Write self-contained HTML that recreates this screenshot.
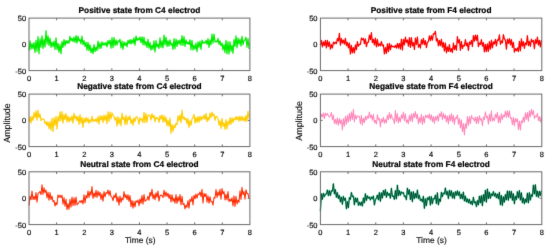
<!DOCTYPE html>
<html><head><meta charset="utf-8"><style>
html,body{margin:0;padding:0;background:#fff;}
svg{display:block;}

.ax{stroke:#6a6a6a;stroke-width:1;fill:none;}
.tk{font-family:"Liberation Sans",Arial,sans-serif;font-size:7.5px;fill:#000;stroke:#000;stroke-width:0.15px;}
.tt{font-family:"Liberation Sans",Arial,sans-serif;font-size:8.3px;font-weight:bold;fill:#000;stroke:#000;stroke-width:0.2px;}
.lb{font-family:"Liberation Sans",Arial,sans-serif;fill:#111;stroke:#111;stroke-width:0.15px;}
text{text-rendering:geometricPrecision;}
</style></head><body>
<svg width="550" height="249" viewBox="0 0 550 249" xmlns="http://www.w3.org/2000/svg">
<defs><filter id="bl" x="0" y="0" width="550" height="249" filterUnits="userSpaceOnUse" color-interpolation-filters="sRGB"><feConvolveMatrix order="3" kernelMatrix="0.0064 0.0672 0.0064 0.0672 0.7056 0.0672 0.0064 0.0672 0.0064" divisor="1" edgeMode="duplicate"/></filter></defs>
<g filter="url(#bl)">
<rect width="550" height="249" fill="#fff"/>
<line x1="56.61" y1="70.6" x2="56.61" y2="68.39999999999999" class="ax"/>
<line x1="56.61" y1="18.1" x2="56.61" y2="20.3" class="ax"/>
<line x1="84.22" y1="70.6" x2="84.22" y2="68.39999999999999" class="ax"/>
<line x1="84.22" y1="18.1" x2="84.22" y2="20.3" class="ax"/>
<line x1="111.84" y1="70.6" x2="111.84" y2="68.39999999999999" class="ax"/>
<line x1="111.84" y1="18.1" x2="111.84" y2="20.3" class="ax"/>
<line x1="139.45" y1="70.6" x2="139.45" y2="68.39999999999999" class="ax"/>
<line x1="139.45" y1="18.1" x2="139.45" y2="20.3" class="ax"/>
<line x1="167.06" y1="70.6" x2="167.06" y2="68.39999999999999" class="ax"/>
<line x1="167.06" y1="18.1" x2="167.06" y2="20.3" class="ax"/>
<line x1="194.68" y1="70.6" x2="194.68" y2="68.39999999999999" class="ax"/>
<line x1="194.68" y1="18.1" x2="194.68" y2="20.3" class="ax"/>
<line x1="222.29" y1="70.6" x2="222.29" y2="68.39999999999999" class="ax"/>
<line x1="222.29" y1="18.1" x2="222.29" y2="20.3" class="ax"/>
<line x1="29.0" y1="44.349999999999994" x2="31.2" y2="44.349999999999994" class="ax"/>
<line x1="249.9" y1="44.349999999999994" x2="247.70000000000002" y2="44.349999999999994" class="ax"/>
<polyline id="sp1" points="29.0,50.8 30.0,40.9 31.0,49.2 32.0,43.7 33.0,48.6 34.0,42.5 35.0,52.4 36.0,40.3 37.0,51.3 38.0,36.5 39.0,53.8 40.0,38.9 41.0,47.3 42.0,35.9 43.0,48.4 44.0,39.1 45.0,47.0 46.0,30.7 47.0,44.0 48.0,35.8 49.0,45.5 50.0,38.1 51.0,47.3 52.0,42.0 53.0,46.7 54.0,41.1 55.0,49.4 56.0,37.8 57.0,49.5 58.0,43.4 59.0,52.1 60.0,44.5 61.0,53.7 62.0,41.6 63.0,47.3 64.0,39.6 65.0,46.0 66.0,40.4 67.0,43.5 68.0,40.7 69.0,43.2 70.0,36.4 71.0,40.8 72.0,38.3 73.0,41.6 74.0,37.2 75.0,42.5 76.0,35.7 77.0,43.2 78.0,36.2 79.0,41.2 80.0,39.3 81.0,43.9 82.0,36.2 83.0,44.7 84.0,40.5 85.0,46.3 86.0,42.4 87.0,50.2 88.0,42.4 89.0,50.7 90.0,44.7 91.0,52.7 92.0,47.8 93.0,53.6 94.0,44.6 95.0,51.7 96.0,47.0 97.0,50.6 98.0,41.2 99.0,48.6 100.0,42.9 101.0,48.5 102.0,41.8 103.0,45.4 104.0,42.8 105.0,45.3 106.0,42.4 107.0,46.8 108.0,40.6 109.0,44.1 110.0,40.0 111.0,48.1 112.0,37.7 113.0,47.6 114.0,37.6 115.0,45.6 116.0,39.8 117.0,45.2 118.0,40.8 119.0,41.9 120.0,39.2 121.0,47.9 122.0,41.1 123.0,49.4 124.0,41.8 125.0,45.5 126.0,42.6 127.0,46.8 128.0,40.3 129.0,43.5 130.0,39.7 131.0,44.0 132.0,39.7 133.0,43.4 134.0,37.8 135.0,45.2 136.0,36.0 137.0,40.5 138.0,38.4 139.0,40.0 140.0,37.0 141.0,42.6 142.0,36.8 143.0,44.8 144.0,37.1 145.0,45.2 146.0,41.5 147.0,47.4 148.0,39.4 149.0,48.1 150.0,42.7 151.0,50.2 152.0,45.0 153.0,49.4 154.0,40.8 155.0,52.0 156.0,40.6 157.0,47.0 158.0,44.1 159.0,48.5 160.0,37.9 161.0,47.5 162.0,40.8 163.0,48.0 164.0,35.0 165.0,45.0 166.0,37.1 167.0,46.5 168.0,40.5 169.0,46.2 170.0,39.8 171.0,45.1 172.0,43.5 173.0,49.4 174.0,38.7 175.0,48.6 176.0,39.2 177.0,46.4 178.0,40.3 179.0,44.2 180.0,39.8 181.0,45.3 182.0,35.7 183.0,45.5 184.0,36.6 185.0,46.4 186.0,39.8 187.0,43.9 188.0,42.1 189.0,44.5 190.0,39.8 191.0,49.7 192.0,40.3 193.0,50.0 194.0,45.1 195.0,49.4 196.0,43.2 197.0,51.6 198.0,41.8 199.0,47.5 200.0,41.2 201.0,49.5 202.0,40.0 203.0,43.3 204.0,42.3 205.0,43.2 206.0,40.4 207.0,44.3 208.0,38.6 209.0,47.5 210.0,39.9 211.0,44.9 212.0,34.2 213.0,43.2 214.0,34.2 215.0,42.0 216.0,41.3 217.0,42.1 218.0,38.3 219.0,44.4 220.0,40.8 221.0,45.8 222.0,43.1 223.0,49.9 224.0,44.5 225.0,52.7 226.0,40.4 227.0,53.8 228.0,41.7 229.0,54.0 230.0,41.9 231.0,51.3 232.0,45.3 233.0,53.3 234.0,39.6 235.0,46.4 236.0,35.9 237.0,47.8 238.0,38.1 239.0,44.1 240.0,39.0 241.0,46.2 242.0,36.4 243.0,44.7 244.0,40.5 245.0,40.1 246.0,37.2 247.0,47.3 248.0,38.5 249.0,48.9" fill="none" stroke="#00ee00" stroke-width="1.2" stroke-linejoin="round"/>
<rect x="29.0" y="18.1" width="220.9" height="52.49999999999999" class="ax" fill="none"/>
<text x="29.00" y="80.70" class="tk" text-anchor="middle">0</text>
<text x="56.61" y="80.70" class="tk" text-anchor="middle">1</text>
<text x="84.22" y="80.70" class="tk" text-anchor="middle">2</text>
<text x="111.84" y="80.70" class="tk" text-anchor="middle">3</text>
<text x="139.45" y="80.70" class="tk" text-anchor="middle">4</text>
<text x="167.06" y="80.70" class="tk" text-anchor="middle">5</text>
<text x="194.68" y="80.70" class="tk" text-anchor="middle">6</text>
<text x="222.29" y="80.70" class="tk" text-anchor="middle">7</text>
<text x="249.90" y="80.70" class="tk" text-anchor="middle">8</text>
<text x="26.10" y="21.00" class="tk" text-anchor="end">50</text>
<text x="26.10" y="47.25" class="tk" text-anchor="end">0</text>
<text x="26.10" y="73.50" class="tk" text-anchor="end">-50</text>
<text x="139.45" y="13.40" class="tt" text-anchor="middle">Positive state from C4 electrod</text>
<line x1="56.61" y1="146.6" x2="56.61" y2="144.4" class="ax"/>
<line x1="56.61" y1="94.1" x2="56.61" y2="96.3" class="ax"/>
<line x1="84.22" y1="146.6" x2="84.22" y2="144.4" class="ax"/>
<line x1="84.22" y1="94.1" x2="84.22" y2="96.3" class="ax"/>
<line x1="111.84" y1="146.6" x2="111.84" y2="144.4" class="ax"/>
<line x1="111.84" y1="94.1" x2="111.84" y2="96.3" class="ax"/>
<line x1="139.45" y1="146.6" x2="139.45" y2="144.4" class="ax"/>
<line x1="139.45" y1="94.1" x2="139.45" y2="96.3" class="ax"/>
<line x1="167.06" y1="146.6" x2="167.06" y2="144.4" class="ax"/>
<line x1="167.06" y1="94.1" x2="167.06" y2="96.3" class="ax"/>
<line x1="194.68" y1="146.6" x2="194.68" y2="144.4" class="ax"/>
<line x1="194.68" y1="94.1" x2="194.68" y2="96.3" class="ax"/>
<line x1="222.29" y1="146.6" x2="222.29" y2="144.4" class="ax"/>
<line x1="222.29" y1="94.1" x2="222.29" y2="96.3" class="ax"/>
<line x1="29.0" y1="120.35" x2="31.2" y2="120.35" class="ax"/>
<line x1="249.9" y1="120.35" x2="247.70000000000002" y2="120.35" class="ax"/>
<polyline id="sp2" points="29.0,121.6 30.0,116.6 31.0,123.1 32.0,116.4 33.0,120.5 34.0,112.7 35.0,117.6 36.0,110.8 37.0,120.1 38.0,110.4 39.0,117.6 40.0,114.2 41.0,120.6 42.0,118.8 43.0,119.2 44.0,119.2 45.0,123.7 46.0,121.6 47.0,125.7 48.0,122.0 49.0,128.6 50.0,121.6 51.0,130.1 52.0,118.3 53.0,131.6 54.0,117.7 55.0,125.5 56.0,116.4 57.0,129.0 58.0,116.5 59.0,121.3 60.0,111.8 61.0,120.9 62.0,111.5 63.0,123.1 64.0,114.6 65.0,119.6 66.0,113.4 67.0,121.9 68.0,116.1 69.0,122.0 70.0,117.3 71.0,120.9 72.0,115.7 73.0,123.1 74.0,113.2 75.0,118.9 76.0,116.1 77.0,120.8 78.0,116.4 79.0,124.4 80.0,114.5 81.0,123.1 82.0,117.1 83.0,127.4 84.0,118.4 85.0,122.5 86.0,117.3 87.0,122.0 88.0,118.1 89.0,123.3 90.0,119.8 91.0,122.0 92.0,116.3 93.0,121.6 94.0,119.6 95.0,121.3 96.0,118.8 97.0,122.2 98.0,116.7 99.0,124.1 100.0,115.7 101.0,120.0 102.0,115.9 103.0,122.7 104.0,115.1 105.0,120.5 106.0,115.0 107.0,123.8 108.0,111.9 109.0,121.5 110.0,112.0 111.0,118.9 112.0,112.9 113.0,115.3 114.0,116.7 115.0,120.1 116.0,117.4 117.0,126.1 118.0,116.6 119.0,124.0 120.0,118.2 121.0,126.0 122.0,113.0 123.0,119.4 124.0,117.2 125.0,124.6 126.0,115.2 127.0,124.3 128.0,116.8 129.0,119.9 130.0,115.9 131.0,123.7 132.0,119.2 133.0,125.4 134.0,117.8 135.0,121.7 136.0,117.1 137.0,116.7 138.0,119.1 139.0,124.3 140.0,117.6 141.0,120.4 142.0,118.7 143.0,122.7 144.0,112.4 145.0,122.7 146.0,113.3 147.0,122.3 148.0,115.2 149.0,115.0 150.0,115.3 151.0,120.1 152.0,113.7 153.0,117.9 154.0,115.4 155.0,121.8 156.0,117.2 157.0,118.6 158.0,117.9 159.0,122.5 160.0,115.6 161.0,119.2 162.0,114.8 163.0,122.2 164.0,115.6 165.0,122.0 166.0,117.1 167.0,125.9 168.0,120.2 169.0,126.5 170.0,118.1 171.0,133.5 172.0,124.3 173.0,131.3 174.0,125.3 175.0,127.8 176.0,123.2 177.0,124.7 178.0,115.9 179.0,121.0 180.0,114.9 181.0,122.6 182.0,110.2 183.0,119.0 184.0,116.8 185.0,119.9 186.0,118.2 187.0,124.0 188.0,118.5 189.0,127.7 190.0,120.6 191.0,125.4 192.0,119.0 193.0,117.5 194.0,114.3 195.0,123.1 196.0,117.4 197.0,122.5 198.0,116.6 199.0,122.2 200.0,116.1 201.0,120.4 202.0,116.9 203.0,118.9 204.0,114.8 205.0,119.5 206.0,113.4 207.0,121.7 208.0,117.2 209.0,120.2 210.0,113.2 211.0,117.9 212.0,112.0 213.0,115.9 214.0,114.1 215.0,120.3 216.0,116.3 217.0,116.8 218.0,118.0 219.0,125.1 220.0,120.9 221.0,128.6 222.0,118.3 223.0,126.3 224.0,122.7 225.0,129.4 226.0,119.5 227.0,129.0 228.0,121.4 229.0,124.6 230.0,117.7 231.0,124.3 232.0,117.5 233.0,122.5 234.0,118.3 235.0,120.0 236.0,116.5 237.0,119.8 238.0,116.6 239.0,121.2 240.0,116.2 241.0,120.9 242.0,116.3 243.0,120.5 244.0,117.4 245.0,121.7 246.0,115.3 247.0,121.3 248.0,111.4 249.0,118.3" fill="none" stroke="#ffcc00" stroke-width="1.15" stroke-linejoin="round"/>
<rect x="29.0" y="94.1" width="220.9" height="52.5" class="ax" fill="none"/>
<text x="29.00" y="156.70" class="tk" text-anchor="middle">0</text>
<text x="56.61" y="156.70" class="tk" text-anchor="middle">1</text>
<text x="84.22" y="156.70" class="tk" text-anchor="middle">2</text>
<text x="111.84" y="156.70" class="tk" text-anchor="middle">3</text>
<text x="139.45" y="156.70" class="tk" text-anchor="middle">4</text>
<text x="167.06" y="156.70" class="tk" text-anchor="middle">5</text>
<text x="194.68" y="156.70" class="tk" text-anchor="middle">6</text>
<text x="222.29" y="156.70" class="tk" text-anchor="middle">7</text>
<text x="249.90" y="156.70" class="tk" text-anchor="middle">8</text>
<text x="26.10" y="97.00" class="tk" text-anchor="end">50</text>
<text x="26.10" y="123.25" class="tk" text-anchor="end">0</text>
<text x="26.10" y="149.50" class="tk" text-anchor="end">-50</text>
<text x="139.45" y="89.40" class="tt" text-anchor="middle">Negative state from C4 electrod</text>
<line x1="56.61" y1="224.6" x2="56.61" y2="222.4" class="ax"/>
<line x1="56.61" y1="171.8" x2="56.61" y2="174.0" class="ax"/>
<line x1="84.22" y1="224.6" x2="84.22" y2="222.4" class="ax"/>
<line x1="84.22" y1="171.8" x2="84.22" y2="174.0" class="ax"/>
<line x1="111.84" y1="224.6" x2="111.84" y2="222.4" class="ax"/>
<line x1="111.84" y1="171.8" x2="111.84" y2="174.0" class="ax"/>
<line x1="139.45" y1="224.6" x2="139.45" y2="222.4" class="ax"/>
<line x1="139.45" y1="171.8" x2="139.45" y2="174.0" class="ax"/>
<line x1="167.06" y1="224.6" x2="167.06" y2="222.4" class="ax"/>
<line x1="167.06" y1="171.8" x2="167.06" y2="174.0" class="ax"/>
<line x1="194.68" y1="224.6" x2="194.68" y2="222.4" class="ax"/>
<line x1="194.68" y1="171.8" x2="194.68" y2="174.0" class="ax"/>
<line x1="222.29" y1="224.6" x2="222.29" y2="222.4" class="ax"/>
<line x1="222.29" y1="171.8" x2="222.29" y2="174.0" class="ax"/>
<line x1="29.0" y1="198.2" x2="31.2" y2="198.2" class="ax"/>
<line x1="249.9" y1="198.2" x2="247.70000000000002" y2="198.2" class="ax"/>
<polyline id="sp3" points="29.0,205.5 30.0,196.1 31.0,199.8 32.0,191.1 33.0,199.5 34.0,196.5 35.0,199.6 36.0,192.6 37.0,202.3 38.0,193.9 39.0,192.5 40.0,191.5 41.0,194.6 42.0,184.7 43.0,194.4 44.0,187.8 45.0,192.6 46.0,190.1 47.0,198.0 48.0,192.0 49.0,200.3 50.0,192.5 51.0,199.6 52.0,196.1 53.0,201.7 54.0,200.5 55.0,206.0 56.0,202.5 57.0,204.8 58.0,194.9 59.0,197.4 60.0,195.1 61.0,197.6 62.0,195.3 63.0,204.1 64.0,197.5 65.0,206.3 66.0,199.2 67.0,209.6 68.0,203.7 69.0,209.3 70.0,199.2 71.0,207.1 72.0,197.0 73.0,205.6 74.0,197.8 75.0,205.4 76.0,197.1 77.0,204.8 78.0,203.7 79.0,202.3 80.0,200.8 81.0,202.6 82.0,200.3 83.0,204.0 84.0,194.7 85.0,203.0 86.0,195.4 87.0,198.1 88.0,191.1 89.0,197.5 90.0,191.5 91.0,195.2 92.0,186.6 93.0,198.5 94.0,192.9 95.0,197.1 96.0,190.3 97.0,197.5 98.0,191.0 99.0,195.8 100.0,192.2 101.0,199.4 102.0,193.9 103.0,201.2 104.0,191.6 105.0,196.8 106.0,192.5 107.0,193.6 108.0,190.0 109.0,195.3 110.0,190.7 111.0,196.6 112.0,197.1 113.0,200.6 114.0,195.3 115.0,197.7 116.0,193.1 117.0,202.0 118.0,196.8 119.0,205.2 120.0,196.0 121.0,202.3 122.0,197.9 123.0,200.0 124.0,191.6 125.0,197.7 126.0,194.7 127.0,199.6 128.0,194.7 129.0,201.4 130.0,195.6 131.0,206.7 132.0,200.4 133.0,208.3 134.0,201.3 135.0,206.9 136.0,200.7 137.0,202.2 138.0,200.0 139.0,205.6 140.0,198.8 141.0,203.4 142.0,195.6 143.0,204.1 144.0,194.6 145.0,201.3 146.0,200.2 147.0,199.5 148.0,196.2 149.0,200.3 150.0,192.2 151.0,196.1 152.0,189.2 153.0,198.8 154.0,194.3 155.0,199.8 156.0,192.7 157.0,197.4 158.0,191.1 159.0,201.1 160.0,195.9 161.0,195.0 162.0,195.6 163.0,197.6 164.0,190.3 165.0,196.4 166.0,191.9 167.0,196.5 168.0,193.2 169.0,198.4 170.0,194.5 171.0,202.0 172.0,194.7 173.0,201.3 174.0,198.1 175.0,203.2 176.0,194.5 177.0,203.4 178.0,196.8 179.0,201.3 180.0,194.5 181.0,204.9 182.0,196.3 183.0,204.5 184.0,203.6 185.0,208.9 186.0,205.1 187.0,207.3 188.0,200.5 189.0,208.1 190.0,199.2 191.0,201.5 192.0,196.5 193.0,205.0 194.0,195.2 195.0,198.8 196.0,194.0 197.0,198.2 198.0,193.8 199.0,194.7 200.0,191.9 201.0,196.7 202.0,189.4 203.0,203.1 204.0,193.2 205.0,196.5 206.0,193.8 207.0,202.2 208.0,195.7 209.0,203.3 210.0,196.7 211.0,201.8 212.0,201.4 213.0,205.2 214.0,197.6 215.0,198.0 216.0,189.6 217.0,197.5 218.0,191.8 219.0,195.7 220.0,189.3 221.0,199.3 222.0,188.6 223.0,194.0 224.0,191.5 225.0,199.9 226.0,194.4 227.0,199.9 228.0,191.5 229.0,201.6 230.0,199.3 231.0,201.3 232.0,197.8 233.0,205.9 234.0,195.9 235.0,206.5 236.0,196.2 237.0,204.0 238.0,200.0 239.0,202.3 240.0,190.8 241.0,199.4 242.0,187.3 243.0,194.6 244.0,191.6 245.0,199.3 246.0,189.7 247.0,193.6 248.0,193.6 249.0,198.3" fill="none" stroke="#ff2a00" stroke-width="1.05" stroke-linejoin="round"/>
<rect x="29.0" y="171.8" width="220.9" height="52.79999999999998" class="ax" fill="none"/>
<text x="29.00" y="234.70" class="tk" text-anchor="middle">0</text>
<text x="56.61" y="234.70" class="tk" text-anchor="middle">1</text>
<text x="84.22" y="234.70" class="tk" text-anchor="middle">2</text>
<text x="111.84" y="234.70" class="tk" text-anchor="middle">3</text>
<text x="139.45" y="234.70" class="tk" text-anchor="middle">4</text>
<text x="167.06" y="234.70" class="tk" text-anchor="middle">5</text>
<text x="194.68" y="234.70" class="tk" text-anchor="middle">6</text>
<text x="222.29" y="234.70" class="tk" text-anchor="middle">7</text>
<text x="249.90" y="234.70" class="tk" text-anchor="middle">8</text>
<text x="26.10" y="174.70" class="tk" text-anchor="end">50</text>
<text x="26.10" y="201.10" class="tk" text-anchor="end">0</text>
<text x="26.10" y="227.50" class="tk" text-anchor="end">-50</text>
<text x="139.45" y="167.10" class="tt" text-anchor="middle">Neutral state from C4 electrod</text>
<line x1="348.07" y1="70.6" x2="348.07" y2="68.39999999999999" class="ax"/>
<line x1="348.07" y1="18.1" x2="348.07" y2="20.3" class="ax"/>
<line x1="375.75" y1="70.6" x2="375.75" y2="68.39999999999999" class="ax"/>
<line x1="375.75" y1="18.1" x2="375.75" y2="20.3" class="ax"/>
<line x1="403.42" y1="70.6" x2="403.42" y2="68.39999999999999" class="ax"/>
<line x1="403.42" y1="18.1" x2="403.42" y2="20.3" class="ax"/>
<line x1="431.10" y1="70.6" x2="431.10" y2="68.39999999999999" class="ax"/>
<line x1="431.10" y1="18.1" x2="431.10" y2="20.3" class="ax"/>
<line x1="458.77" y1="70.6" x2="458.77" y2="68.39999999999999" class="ax"/>
<line x1="458.77" y1="18.1" x2="458.77" y2="20.3" class="ax"/>
<line x1="486.45" y1="70.6" x2="486.45" y2="68.39999999999999" class="ax"/>
<line x1="486.45" y1="18.1" x2="486.45" y2="20.3" class="ax"/>
<line x1="514.12" y1="70.6" x2="514.12" y2="68.39999999999999" class="ax"/>
<line x1="514.12" y1="18.1" x2="514.12" y2="20.3" class="ax"/>
<line x1="320.4" y1="44.349999999999994" x2="322.59999999999997" y2="44.349999999999994" class="ax"/>
<line x1="541.8" y1="44.349999999999994" x2="539.5999999999999" y2="44.349999999999994" class="ax"/>
<polyline id="sp4" points="320.4,45.0 321.4,40.4 322.4,46.8 323.4,41.9 324.4,45.7 325.4,40.4 326.4,47.9 327.4,40.3 328.4,46.4 329.4,42.0 330.4,49.1 331.4,44.6 332.4,48.0 333.4,42.2 334.4,43.8 335.4,42.2 336.4,43.6 337.4,38.5 338.4,41.0 339.4,33.4 340.4,45.2 341.4,38.5 342.4,43.0 343.4,40.1 344.4,44.2 345.4,38.3 346.4,45.6 347.4,42.3 348.4,47.9 349.4,43.0 350.4,54.0 351.4,45.4 352.4,52.8 353.4,47.7 354.4,53.0 355.4,44.9 356.4,49.6 357.4,41.6 358.4,46.1 359.4,44.4 360.4,44.4 361.4,38.0 362.4,39.8 363.4,38.4 364.4,43.7 365.4,38.9 366.4,46.7 367.4,42.3 368.4,42.2 369.4,35.2 370.4,39.6 371.4,32.7 372.4,42.6 373.4,39.3 374.4,44.8 375.4,38.1 376.4,46.8 377.4,39.5 378.4,46.1 379.4,43.8 380.4,45.8 381.4,41.5 382.4,45.9 383.4,44.9 384.4,54.0 385.4,47.5 386.4,53.5 387.4,43.8 388.4,51.6 389.4,43.4 390.4,49.8 391.4,45.0 392.4,46.8 393.4,46.3 394.4,47.4 395.4,45.3 396.4,48.1 397.4,43.5 398.4,48.1 399.4,43.5 400.4,49.1 401.4,39.2 402.4,50.0 403.4,39.4 404.4,44.9 405.4,37.1 406.4,42.3 407.4,40.0 408.4,46.2 409.4,37.6 410.4,47.4 411.4,37.6 412.4,45.8 413.4,42.7 414.4,49.4 415.4,38.1 416.4,44.5 417.4,37.0 418.4,47.2 419.4,44.4 420.4,48.2 421.4,39.6 422.4,44.1 423.4,38.3 424.4,44.7 425.4,40.6 426.4,47.6 427.4,42.5 428.4,41.4 429.4,35.8 430.4,40.7 431.4,35.6 432.4,40.1 433.4,33.7 434.4,34.0 435.4,31.3 436.4,41.0 437.4,38.7 438.4,45.8 439.4,40.4 440.4,45.6 441.4,39.4 442.4,47.2 443.4,42.5 444.4,51.0 445.4,43.0 446.4,52.8 447.4,46.8 448.4,51.3 449.4,44.7 450.4,51.7 451.4,48.7 452.4,52.5 453.4,43.0 454.4,49.7 455.4,45.5 456.4,50.2 457.4,36.5 458.4,42.9 459.4,39.7 460.4,50.3 461.4,41.5 462.4,48.5 463.4,45.3 464.4,46.0 465.4,39.6 466.4,45.6 467.4,43.1 468.4,50.3 469.4,41.9 470.4,44.2 471.4,40.3 472.4,46.5 473.4,35.6 474.4,41.2 475.4,35.1 476.4,40.5 477.4,35.1 478.4,46.7 479.4,43.0 480.4,44.4 481.4,39.7 482.4,46.2 483.4,42.6 484.4,51.9 485.4,44.3 486.4,51.6 487.4,43.9 488.4,51.3 489.4,41.7 490.4,49.1 491.4,40.2 492.4,47.8 493.4,41.8 494.4,43.9 495.4,39.4 496.4,45.8 497.4,39.9 498.4,40.3 499.4,34.8 500.4,44.3 501.4,41.0 502.4,42.9 503.4,34.7 504.4,38.8 505.4,40.2 506.4,49.1 507.4,39.2 508.4,43.3 509.4,38.6 510.4,44.9 511.4,39.7 512.4,47.4 513.4,42.3 514.4,52.1 515.4,48.7 516.4,50.8 517.4,47.9 518.4,51.6 519.4,41.3 520.4,50.8 521.4,38.9 522.4,46.1 523.4,41.7 524.4,48.4 525.4,42.9 526.4,44.6 527.4,35.6 528.4,45.7 529.4,41.4 530.4,46.4 531.4,39.1 532.4,41.8 533.4,40.5 534.4,48.6 535.4,39.7 536.4,43.3 537.4,37.2 538.4,45.2 539.4,40.3 540.4,46.8 541.4,40.0" fill="none" stroke="#ff0000" stroke-width="1.25" stroke-linejoin="round"/>
<rect x="320.4" y="18.1" width="221.39999999999998" height="52.49999999999999" class="ax" fill="none"/>
<text x="320.40" y="80.70" class="tk" text-anchor="middle">0</text>
<text x="348.07" y="80.70" class="tk" text-anchor="middle">1</text>
<text x="375.75" y="80.70" class="tk" text-anchor="middle">2</text>
<text x="403.42" y="80.70" class="tk" text-anchor="middle">3</text>
<text x="431.10" y="80.70" class="tk" text-anchor="middle">4</text>
<text x="458.77" y="80.70" class="tk" text-anchor="middle">5</text>
<text x="486.45" y="80.70" class="tk" text-anchor="middle">6</text>
<text x="514.12" y="80.70" class="tk" text-anchor="middle">7</text>
<text x="541.80" y="80.70" class="tk" text-anchor="middle">8</text>
<text x="317.50" y="21.00" class="tk" text-anchor="end">50</text>
<text x="317.50" y="47.25" class="tk" text-anchor="end">0</text>
<text x="317.50" y="73.50" class="tk" text-anchor="end">-50</text>
<text x="431.10" y="13.40" class="tt" text-anchor="middle">Positive state from F4 electrod</text>
<line x1="348.07" y1="146.6" x2="348.07" y2="144.4" class="ax"/>
<line x1="348.07" y1="94.1" x2="348.07" y2="96.3" class="ax"/>
<line x1="375.75" y1="146.6" x2="375.75" y2="144.4" class="ax"/>
<line x1="375.75" y1="94.1" x2="375.75" y2="96.3" class="ax"/>
<line x1="403.42" y1="146.6" x2="403.42" y2="144.4" class="ax"/>
<line x1="403.42" y1="94.1" x2="403.42" y2="96.3" class="ax"/>
<line x1="431.10" y1="146.6" x2="431.10" y2="144.4" class="ax"/>
<line x1="431.10" y1="94.1" x2="431.10" y2="96.3" class="ax"/>
<line x1="458.77" y1="146.6" x2="458.77" y2="144.4" class="ax"/>
<line x1="458.77" y1="94.1" x2="458.77" y2="96.3" class="ax"/>
<line x1="486.45" y1="146.6" x2="486.45" y2="144.4" class="ax"/>
<line x1="486.45" y1="94.1" x2="486.45" y2="96.3" class="ax"/>
<line x1="514.12" y1="146.6" x2="514.12" y2="144.4" class="ax"/>
<line x1="514.12" y1="94.1" x2="514.12" y2="96.3" class="ax"/>
<line x1="320.4" y1="120.35" x2="322.59999999999997" y2="120.35" class="ax"/>
<line x1="541.8" y1="120.35" x2="539.5999999999999" y2="120.35" class="ax"/>
<polyline id="sp5" points="320.4,119.1 321.4,114.2 322.4,117.0 323.4,112.9 324.4,118.7 325.4,113.1 326.4,115.3 327.4,113.5 328.4,115.8 329.4,117.0 330.4,115.8 331.4,112.5 332.4,119.8 333.4,115.0 334.4,123.7 335.4,119.4 336.4,124.1 337.4,117.9 338.4,125.2 339.4,118.5 340.4,123.6 341.4,119.7 342.4,129.9 343.4,118.6 344.4,126.2 345.4,116.3 346.4,124.3 347.4,115.2 348.4,122.2 349.4,113.3 350.4,120.9 351.4,111.9 352.4,119.6 353.4,109.4 354.4,121.9 355.4,114.8 356.4,118.9 357.4,116.1 358.4,116.2 359.4,116.7 360.4,124.0 361.4,115.3 362.4,125.3 363.4,118.2 364.4,122.6 365.4,116.3 366.4,119.9 367.4,115.9 368.4,118.2 369.4,112.0 370.4,117.9 371.4,115.0 372.4,120.2 373.4,114.3 374.4,122.9 375.4,120.2 376.4,124.0 377.4,114.7 378.4,119.9 379.4,118.5 380.4,127.0 381.4,118.9 382.4,122.1 383.4,117.3 384.4,123.3 385.4,119.4 386.4,122.9 387.4,115.0 388.4,119.7 389.4,112.6 390.4,118.7 391.4,114.4 392.4,119.1 393.4,119.3 394.4,123.7 395.4,110.6 396.4,121.4 397.4,113.5 398.4,122.9 399.4,117.4 400.4,121.8 401.4,114.9 402.4,118.4 403.4,112.0 404.4,120.8 405.4,113.8 406.4,122.8 407.4,119.7 408.4,123.8 409.4,115.3 410.4,121.1 411.4,113.8 412.4,121.7 413.4,113.4 414.4,117.3 415.4,111.6 416.4,118.6 417.4,114.1 418.4,123.8 419.4,117.6 420.4,122.5 421.4,114.2 422.4,124.4 423.4,116.3 424.4,123.0 425.4,115.3 426.4,117.4 427.4,115.1 428.4,118.3 429.4,113.8 430.4,120.1 431.4,114.8 432.4,121.8 433.4,116.5 434.4,123.3 435.4,116.5 436.4,120.2 437.4,115.5 438.4,121.3 439.4,113.6 440.4,116.5 441.4,111.7 442.4,119.6 443.4,113.3 444.4,118.5 445.4,114.9 446.4,121.9 447.4,115.9 448.4,124.0 449.4,115.1 450.4,120.8 451.4,113.5 452.4,122.0 453.4,115.2 454.4,124.4 455.4,117.7 456.4,118.5 457.4,114.9 458.4,124.2 459.4,118.6 460.4,127.9 461.4,119.8 462.4,131.8 463.4,123.6 464.4,134.9 465.4,123.5 466.4,128.3 467.4,116.4 468.4,125.4 469.4,116.5 470.4,123.6 471.4,115.5 472.4,118.5 473.4,118.5 474.4,121.1 475.4,116.9 476.4,123.6 477.4,116.7 478.4,123.4 479.4,115.8 480.4,120.2 481.4,118.8 482.4,125.8 483.4,117.1 484.4,119.6 485.4,111.8 486.4,117.7 487.4,116.2 488.4,124.1 489.4,114.1 490.4,121.4 491.4,110.8 492.4,121.2 493.4,117.9 494.4,120.8 495.4,114.2 496.4,117.9 497.4,112.3 498.4,122.9 499.4,115.9 500.4,122.6 501.4,113.6 502.4,119.5 503.4,115.0 504.4,116.9 505.4,111.2 506.4,117.5 507.4,110.7 508.4,117.2 509.4,110.9 510.4,118.6 511.4,117.9 512.4,124.8 513.4,117.3 514.4,125.9 515.4,118.3 516.4,121.5 517.4,118.8 518.4,129.6 519.4,121.0 520.4,130.1 521.4,120.8 522.4,122.7 523.4,117.1 524.4,122.3 525.4,112.7 526.4,119.3 527.4,112.4 528.4,121.3 529.4,110.9 530.4,116.6 531.4,109.2 532.4,114.9 533.4,110.5 534.4,118.5 535.4,115.9 536.4,116.8 537.4,113.4 538.4,120.5 539.4,116.5 540.4,122.1 541.4,116.6" fill="none" stroke="#ff88bb" stroke-width="1.05" stroke-linejoin="round"/>
<rect x="320.4" y="94.1" width="221.39999999999998" height="52.5" class="ax" fill="none"/>
<text x="320.40" y="156.70" class="tk" text-anchor="middle">0</text>
<text x="348.07" y="156.70" class="tk" text-anchor="middle">1</text>
<text x="375.75" y="156.70" class="tk" text-anchor="middle">2</text>
<text x="403.42" y="156.70" class="tk" text-anchor="middle">3</text>
<text x="431.10" y="156.70" class="tk" text-anchor="middle">4</text>
<text x="458.77" y="156.70" class="tk" text-anchor="middle">5</text>
<text x="486.45" y="156.70" class="tk" text-anchor="middle">6</text>
<text x="514.12" y="156.70" class="tk" text-anchor="middle">7</text>
<text x="541.80" y="156.70" class="tk" text-anchor="middle">8</text>
<text x="317.50" y="97.00" class="tk" text-anchor="end">50</text>
<text x="317.50" y="123.25" class="tk" text-anchor="end">0</text>
<text x="317.50" y="149.50" class="tk" text-anchor="end">-50</text>
<text x="431.10" y="89.40" class="tt" text-anchor="middle">Negative state from F4 electrod</text>
<line x1="348.07" y1="224.6" x2="348.07" y2="222.4" class="ax"/>
<line x1="348.07" y1="171.8" x2="348.07" y2="174.0" class="ax"/>
<line x1="375.75" y1="224.6" x2="375.75" y2="222.4" class="ax"/>
<line x1="375.75" y1="171.8" x2="375.75" y2="174.0" class="ax"/>
<line x1="403.42" y1="224.6" x2="403.42" y2="222.4" class="ax"/>
<line x1="403.42" y1="171.8" x2="403.42" y2="174.0" class="ax"/>
<line x1="431.10" y1="224.6" x2="431.10" y2="222.4" class="ax"/>
<line x1="431.10" y1="171.8" x2="431.10" y2="174.0" class="ax"/>
<line x1="458.77" y1="224.6" x2="458.77" y2="222.4" class="ax"/>
<line x1="458.77" y1="171.8" x2="458.77" y2="174.0" class="ax"/>
<line x1="486.45" y1="224.6" x2="486.45" y2="222.4" class="ax"/>
<line x1="486.45" y1="171.8" x2="486.45" y2="174.0" class="ax"/>
<line x1="514.12" y1="224.6" x2="514.12" y2="222.4" class="ax"/>
<line x1="514.12" y1="171.8" x2="514.12" y2="174.0" class="ax"/>
<line x1="320.4" y1="198.2" x2="322.59999999999997" y2="198.2" class="ax"/>
<line x1="541.8" y1="198.2" x2="539.5999999999999" y2="198.2" class="ax"/>
<polyline id="sp6" points="320.4,211.1 321.4,193.8 322.4,199.4 323.4,193.2 324.4,196.7 325.4,194.1 326.4,194.1 327.4,189.9 328.4,195.7 329.4,190.6 330.4,195.6 331.4,190.8 332.4,191.1 333.4,183.8 334.4,193.9 335.4,189.6 336.4,197.3 337.4,192.6 338.4,198.6 339.4,195.4 340.4,201.9 341.4,197.1 342.4,204.3 343.4,196.3 344.4,200.4 345.4,198.1 346.4,208.8 347.4,201.6 348.4,207.8 349.4,197.5 350.4,199.5 351.4,192.5 352.4,196.7 353.4,196.0 354.4,204.9 355.4,197.8 356.4,202.1 357.4,198.1 358.4,205.4 359.4,202.2 360.4,205.2 361.4,201.9 362.4,206.1 363.4,197.9 364.4,202.9 365.4,193.7 366.4,200.5 367.4,195.8 368.4,198.3 369.4,196.9 370.4,200.1 371.4,196.9 372.4,198.9 373.4,195.9 374.4,205.0 375.4,199.8 376.4,198.2 377.4,195.0 378.4,199.9 379.4,192.5 380.4,201.3 381.4,192.8 382.4,198.1 383.4,190.4 384.4,195.3 385.4,189.5 386.4,197.3 387.4,192.1 388.4,195.3 389.4,193.7 390.4,198.3 391.4,188.3 392.4,196.5 393.4,195.9 394.4,199.4 395.4,190.6 396.4,198.9 397.4,185.1 398.4,195.8 399.4,190.6 400.4,195.2 401.4,191.8 402.4,193.3 403.4,192.4 404.4,196.7 405.4,195.9 406.4,199.8 407.4,188.1 408.4,194.3 409.4,189.7 410.4,199.6 411.4,191.9 412.4,201.7 413.4,191.6 414.4,198.6 415.4,193.5 416.4,197.8 417.4,190.0 418.4,198.7 419.4,195.3 420.4,200.6 421.4,199.1 422.4,201.9 423.4,196.2 424.4,208.4 425.4,198.8 426.4,205.7 427.4,197.7 428.4,199.8 429.4,196.5 430.4,205.1 431.4,196.6 432.4,203.7 433.4,198.5 434.4,198.9 435.4,195.0 436.4,203.6 437.4,192.7 438.4,204.9 439.4,198.9 440.4,201.5 441.4,192.2 442.4,196.8 443.4,192.9 444.4,193.9 445.4,187.9 446.4,194.8 447.4,191.5 448.4,198.6 449.4,190.2 450.4,195.8 451.4,190.7 452.4,198.1 453.4,192.6 454.4,198.6 455.4,191.6 456.4,195.3 457.4,190.8 458.4,195.6 459.4,191.8 460.4,198.6 461.4,194.2 462.4,198.8 463.4,192.0 464.4,201.0 465.4,196.0 466.4,202.0 467.4,198.8 468.4,202.9 469.4,199.1 470.4,203.9 471.4,201.3 472.4,204.9 473.4,197.2 474.4,203.0 475.4,201.7 476.4,206.7 477.4,200.5 478.4,205.0 479.4,196.1 480.4,202.9 481.4,195.6 482.4,205.7 483.4,194.7 484.4,201.1 485.4,190.3 486.4,202.2 487.4,188.9 488.4,198.6 489.4,192.1 490.4,198.4 491.4,193.8 492.4,195.7 493.4,191.5 494.4,196.2 495.4,193.3 496.4,197.8 497.4,193.9 498.4,198.8 499.4,192.3 500.4,204.8 501.4,195.4 502.4,205.5 503.4,196.8 504.4,202.2 505.4,194.5 506.4,199.9 507.4,190.9 508.4,200.3 509.4,191.0 510.4,198.0 511.4,191.3 512.4,200.3 513.4,193.7 514.4,203.8 515.4,196.2 516.4,199.6 517.4,191.6 518.4,197.9 519.4,190.5 520.4,200.1 521.4,192.8 522.4,202.8 523.4,197.9 524.4,203.8 525.4,199.0 526.4,202.2 527.4,193.1 528.4,202.9 529.4,192.6 530.4,200.1 531.4,194.6 532.4,196.4 533.4,185.1 534.4,194.0 535.4,184.7 536.4,196.4 537.4,191.0 538.4,197.3 539.4,191.3 540.4,195.6 541.4,190.7" fill="none" stroke="#22c48c" stroke-width="1.45" stroke-linejoin="round"/>
<polyline points="320.4,211.1 321.4,193.8 322.4,199.4 323.4,193.2 324.4,196.7 325.4,194.1 326.4,194.1 327.4,189.9 328.4,195.7 329.4,190.6 330.4,195.6 331.4,190.8 332.4,191.1 333.4,183.8 334.4,193.9 335.4,189.6 336.4,197.3 337.4,192.6 338.4,198.6 339.4,195.4 340.4,201.9 341.4,197.1 342.4,204.3 343.4,196.3 344.4,200.4 345.4,198.1 346.4,208.8 347.4,201.6 348.4,207.8 349.4,197.5 350.4,199.5 351.4,192.5 352.4,196.7 353.4,196.0 354.4,204.9 355.4,197.8 356.4,202.1 357.4,198.1 358.4,205.4 359.4,202.2 360.4,205.2 361.4,201.9 362.4,206.1 363.4,197.9 364.4,202.9 365.4,193.7 366.4,200.5 367.4,195.8 368.4,198.3 369.4,196.9 370.4,200.1 371.4,196.9 372.4,198.9 373.4,195.9 374.4,205.0 375.4,199.8 376.4,198.2 377.4,195.0 378.4,199.9 379.4,192.5 380.4,201.3 381.4,192.8 382.4,198.1 383.4,190.4 384.4,195.3 385.4,189.5 386.4,197.3 387.4,192.1 388.4,195.3 389.4,193.7 390.4,198.3 391.4,188.3 392.4,196.5 393.4,195.9 394.4,199.4 395.4,190.6 396.4,198.9 397.4,185.1 398.4,195.8 399.4,190.6 400.4,195.2 401.4,191.8 402.4,193.3 403.4,192.4 404.4,196.7 405.4,195.9 406.4,199.8 407.4,188.1 408.4,194.3 409.4,189.7 410.4,199.6 411.4,191.9 412.4,201.7 413.4,191.6 414.4,198.6 415.4,193.5 416.4,197.8 417.4,190.0 418.4,198.7 419.4,195.3 420.4,200.6 421.4,199.1 422.4,201.9 423.4,196.2 424.4,208.4 425.4,198.8 426.4,205.7 427.4,197.7 428.4,199.8 429.4,196.5 430.4,205.1 431.4,196.6 432.4,203.7 433.4,198.5 434.4,198.9 435.4,195.0 436.4,203.6 437.4,192.7 438.4,204.9 439.4,198.9 440.4,201.5 441.4,192.2 442.4,196.8 443.4,192.9 444.4,193.9 445.4,187.9 446.4,194.8 447.4,191.5 448.4,198.6 449.4,190.2 450.4,195.8 451.4,190.7 452.4,198.1 453.4,192.6 454.4,198.6 455.4,191.6 456.4,195.3 457.4,190.8 458.4,195.6 459.4,191.8 460.4,198.6 461.4,194.2 462.4,198.8 463.4,192.0 464.4,201.0 465.4,196.0 466.4,202.0 467.4,198.8 468.4,202.9 469.4,199.1 470.4,203.9 471.4,201.3 472.4,204.9 473.4,197.2 474.4,203.0 475.4,201.7 476.4,206.7 477.4,200.5 478.4,205.0 479.4,196.1 480.4,202.9 481.4,195.6 482.4,205.7 483.4,194.7 484.4,201.1 485.4,190.3 486.4,202.2 487.4,188.9 488.4,198.6 489.4,192.1 490.4,198.4 491.4,193.8 492.4,195.7 493.4,191.5 494.4,196.2 495.4,193.3 496.4,197.8 497.4,193.9 498.4,198.8 499.4,192.3 500.4,204.8 501.4,195.4 502.4,205.5 503.4,196.8 504.4,202.2 505.4,194.5 506.4,199.9 507.4,190.9 508.4,200.3 509.4,191.0 510.4,198.0 511.4,191.3 512.4,200.3 513.4,193.7 514.4,203.8 515.4,196.2 516.4,199.6 517.4,191.6 518.4,197.9 519.4,190.5 520.4,200.1 521.4,192.8 522.4,202.8 523.4,197.9 524.4,203.8 525.4,199.0 526.4,202.2 527.4,193.1 528.4,202.9 529.4,192.6 530.4,200.1 531.4,194.6 532.4,196.4 533.4,185.1 534.4,194.0 535.4,184.7 536.4,196.4 537.4,191.0 538.4,197.3 539.4,191.3 540.4,195.6 541.4,190.7" fill="none" stroke="#03200f" stroke-width="0.65" stroke-linejoin="round"/>
<rect x="320.4" y="171.8" width="221.39999999999998" height="52.79999999999998" class="ax" fill="none"/>
<text x="320.40" y="234.70" class="tk" text-anchor="middle">0</text>
<text x="348.07" y="234.70" class="tk" text-anchor="middle">1</text>
<text x="375.75" y="234.70" class="tk" text-anchor="middle">2</text>
<text x="403.42" y="234.70" class="tk" text-anchor="middle">3</text>
<text x="431.10" y="234.70" class="tk" text-anchor="middle">4</text>
<text x="458.77" y="234.70" class="tk" text-anchor="middle">5</text>
<text x="486.45" y="234.70" class="tk" text-anchor="middle">6</text>
<text x="514.12" y="234.70" class="tk" text-anchor="middle">7</text>
<text x="541.80" y="234.70" class="tk" text-anchor="middle">8</text>
<text x="317.50" y="174.70" class="tk" text-anchor="end">50</text>
<text x="317.50" y="201.10" class="tk" text-anchor="end">0</text>
<text x="317.50" y="227.50" class="tk" text-anchor="end">-50</text>
<text x="431.10" y="167.10" class="tt" text-anchor="middle">Neutral state from F4 electrod</text>
<text x="10.0" y="123" class="lb" text-anchor="middle" font-size="8.9" transform="rotate(-90 10.0 123)">Amplitude</text>
<text x="302.0" y="120.9" class="lb" text-anchor="middle" font-size="8.9" transform="rotate(-90 302.0 120.9)">Amplitude</text>
<text x="140.25" y="242.5" class="lb" text-anchor="middle" font-size="8.4">Time (s)</text>
<text x="431.5" y="242.5" class="lb" text-anchor="middle" font-size="8.4">Time (s)</text>
</g>
</svg>
</body></html>
